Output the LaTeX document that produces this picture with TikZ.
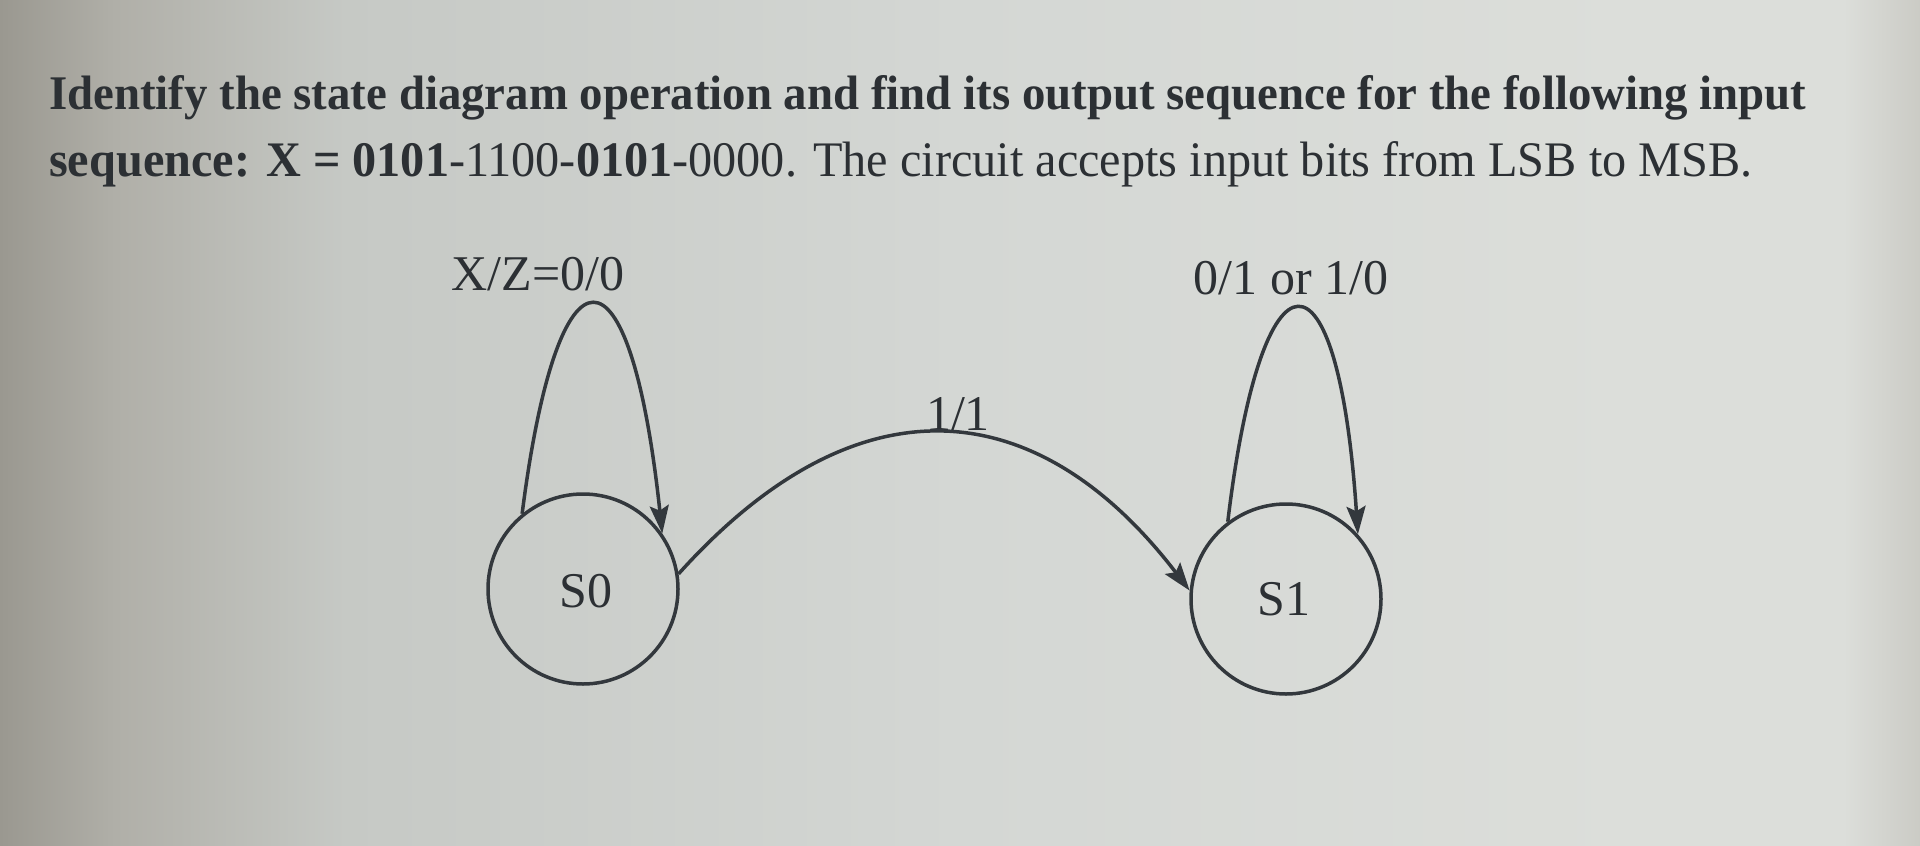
\documentclass[tikz,border=0pt]{standalone}
\usepackage{fontspec}
\setmainfont{Liberation Serif}
\usetikzlibrary{arrows.meta}
\definecolor{ink}{HTML}{33383D}
\definecolor{txt}{HTML}{2C3034}
\definecolor{bgA}{HTML}{9A9890}
\definecolor{bgB}{HTML}{B0AFA8}
\definecolor{bgC}{HTML}{C6C9C5}
\definecolor{bgM}{HTML}{D4D7D4}
\definecolor{bgR}{HTML}{DCDEDA}
\definecolor{bgE}{HTML}{CBCBC5}
\pgfdeclarehorizontalshading{bgshade}{100bp}{color(0bp)=(bgA); color(25bp)=(bgA); color(28bp)=(bgB); color(34bp)=(bgC); color(50bp)=(bgM); color(67.5bp)=(bgR); color(73bp)=(bgR); color(75bp)=(bgE); color(100bp)=(bgE)}
\tikzset{
  state/.style={circle, draw=ink, line width=3.5pt, minimum size=190pt, inner sep=0pt},
  lbl/.style={text=txt, anchor=base, inner sep=0pt, font=\fontsize{50}{56}\selectfont},
  edge/.style={draw=ink, line width=3.5pt, -{Stealth[length=28pt,width=19pt,inset=5pt]}},
  headline/.style={text=txt, anchor=base west, inner sep=0pt}
}
\begin{document}
\begin{tikzpicture}[x=1pt,y=-1pt]
\useasboundingbox (0,0) rectangle (1920,846);
\shade[shading=bgshade] (0,0) rectangle (1920,846);

\node[headline] (q1) at (49,109) {\resizebox{1757pt}{34pt}{\bfseries Identify the state diagram operation and find its output sequence for the following input}};
\node[headline] (q2) at (49,176) {\resizebox{1703pt}{35pt}{{\bfseries sequence: X = 0101}-1100-{\bfseries 0101}-0000. The circuit accepts input bits from LSB to MSB.}};

\node[state] (S0) at (583,589) {};
\node[state] (S1) at (1286,599) {};
\node[lbl] (t0) at (586,607) {S0};
\node[lbl] (t1) at (1284,615) {S1};

\node[lbl] (l0) at (538,290) {X/Z=0/0};
\node[lbl] (l1) at (1291,294) {0/1 or 1/0};
\node[lbl] (l2) at (958,430) {1/1};

\draw[edge] (S0.129) .. controls (558,232) and (630,232) .. (S0.35);
\draw[edge] (S1.127) .. controls (1262,236) and (1338,236) .. (S1.42);
\draw[edge] (S0.9) .. controls (860,372) and (1040,395) .. (S1.175);
\end{tikzpicture}
\end{document}
